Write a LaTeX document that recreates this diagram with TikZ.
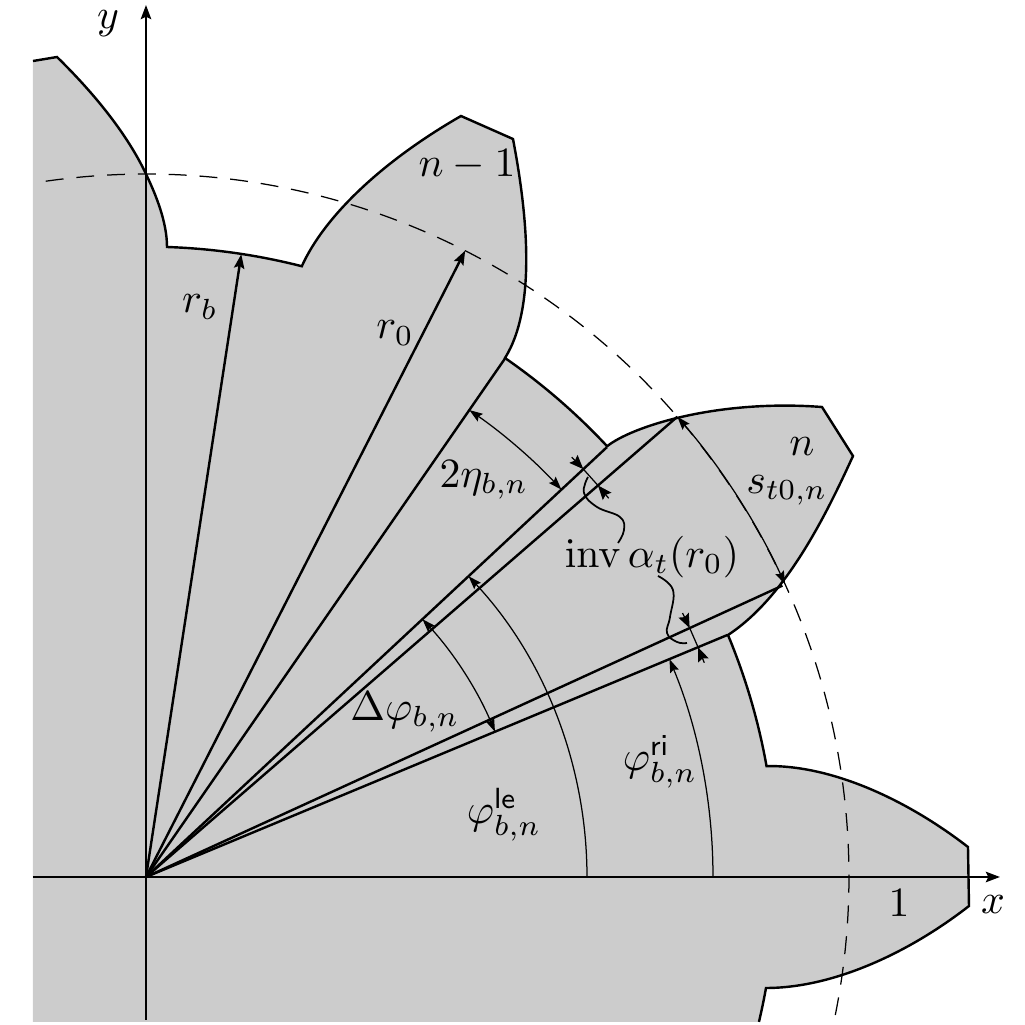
\documentclass[tikz,border=0pt]{standalone}
\usetikzlibrary{arrows.meta}
\definecolor{gearfill}{HTML}{CCCCCC}
\tikzset{
  gearline/.style={line width=0.58pt,line join=miter,black},
  radial/.style={line width=0.58pt,black},
  thinarc/.style={line width=0.3pt,black},
  curlyline/.style={line width=0.42pt,black},
  tipA/.style={-{Stealth[length=3.4pt,width=2.5pt,inset=0.6pt]}},
  tipB/.style={{Stealth[length=3.2pt,width=2.2pt,inset=0.5pt]}-{Stealth[length=3.2pt,width=2.2pt,inset=0.5pt]}},
  tipC/.style={-{Stealth[length=3.2pt,width=2.2pt,inset=0.5pt]}},
  tipD/.style={-{Stealth[length=3.4pt,width=2.7pt,inset=0.5pt]}},
  lab/.style={inner sep=0pt,outer sep=0pt,anchor=center},
}
\def\gearpath{
  (-113,816) -- (-89,820)
  .. controls (-43,775) and (-15,735) .. (0,703)
  .. controls (10,682) and (21,655) .. (21,630)
  arc[start angle=88.09,end angle=75.68,radius=630]
  .. controls (178,660) and (235,715) .. (315,761)
  -- (367,738)
  .. controls (381,665) and (391,570) .. (359,519)
  arc[start angle=55.3,end angle=43.0,radius=630]
  .. controls (485,450) and (570,478) .. (676,470)
  -- (707,421)
  .. controls (680,362) and (640,280) .. (582,242)
  arc[start angle=22.6,end angle=10.15,radius=630]
  .. controls (685,112) and (760,78) .. (822,30)
  -- (823,-29)
  .. controls (760,-78) and (685,-111) .. (620,-111)
  arc[start angle=-10.15,end angle=-13.3,radius=630]
}
\begin{document}
\begin{tikzpicture}[x=.24pt,y=.24pt]
\useasboundingbox (-146,-148) rectangle (879,877);
\fill[gearfill] \gearpath -- (613,-145) -- (-113,-145) -- cycle;
\draw[gearline] \gearpath;

\coordinate (O) at (0,0);
\coordinate (ybot) at (0,-143);
\coordinate (ytop) at (0,872);
\coordinate (xleft) at (-113,0);
\coordinate (xright) at (854,0);
\coordinate (rbtip) at (81.3:630);
\coordinate (rztip) at (63:703);
\coordinate (leftn) at (55.3:630);
\coordinate (flankA) at (43:630);
\coordinate (flankB) at (40.9:703);
\coordinate (flankC) at (24.6:700);
\coordinate (flankD) at (22.6:630);

\draw[radial,tipA] (ybot) -- (ytop);
\draw[radial,tipA] (xleft) -- (xright);
\draw[radial,tipA] (O) -- (rbtip);
\draw[radial,tipA] (O) -- (rztip);
\draw[radial] (O) -- (leftn);
\draw[radial] (O) -- (flankA);
\draw[radial] (O) -- (flankB);
\draw[radial] (O) -- (flankC);
\draw[radial] (O) -- (flankD);

\draw[thinarc,dash pattern=on 4.3pt off 3.1pt] (98.2:703) arc[start angle=98.2,end angle=-11.9,radius=703];

\draw[thinarc,tipB] (55.3:568) arc[start angle=55.3,end angle=43,radius=568];
\draw[thinarc,tipB] (40.9:703) arc[start angle=40.9,end angle=24.6,radius=703];
\draw[thinarc,tipB] (43:378) arc[start angle=43,end angle=22.6,radius=378];
\draw[thinarc,tipC] (441,0) arc[start angle=0,end angle=43,radius=441];
\draw[thinarc,tipC] (567,0) arc[start angle=0,end angle=22.6,radius=567];

\coordinate (tickAa) at (44.6:598);
\coordinate (tickAb) at (43:598);
\coordinate (tickAc) at (40.9:598);
\coordinate (tickAd) at (39.3:598);
\coordinate (tickBa) at (26.2:598);
\coordinate (tickBb) at (24.6:598);
\coordinate (tickBc) at (22.6:598);
\coordinate (tickBd) at (21:598);
\draw[thinarc,tipD] (tickAa) -- (tickAb);
\draw[thinarc] (tickAb) -- (tickAc);
\draw[thinarc,tipD] (tickAd) -- (tickAc);
\draw[thinarc,tipD] (tickBa) -- (tickBb);
\draw[thinarc] (tickBb) -- (tickBc);
\draw[thinarc,tipD] (tickBd) -- (tickBc);

\draw[curlyline] plot[smooth,tension=.7] coordinates {(442,400) (438,384) (451,370) (474,360) (478,347) (472,334)};
\draw[curlyline] plot[smooth,tension=.7] coordinates {(512,301) (527,287) (524,260) (521,244) (531,235) (541,234)};

\node[lab] (ylab) at (-38,853) {$y$};
\node[lab] (xlab) at (847,-28) {$x$};
\node[lab] (toothprev) at (321,712) {$n-1$};
\node[lab] (toothn) at (656,430) {$n$};
\node[lab] (toothone) at (753,-26) {$1$};
\node[lab] (rblab) at (54,570) {$r_b$};
\node[lab] (rzlab) at (249,544) {$r_0$};
\node[lab] (etalab) at (338,397) {$2\eta_{b,n}$};
\node[lab] (slab) at (641,387) {$s_{t0,n}$};
\node[lab] (invlab) at (506,320) {$\mathrm{inv}\,\alpha_t(r_0)$};
\node[lab] (dphilab) at (259,165) {$\Delta\varphi_{b,n}$};
\node[lab] (rilab) at (514,115) {$\varphi_{b,n}^{\mathsf{ri}}$};
\node[lab] (lelab) at (358,62) {$\varphi_{b,n}^{\mathsf{le}}$};
\end{tikzpicture}
\end{document}
